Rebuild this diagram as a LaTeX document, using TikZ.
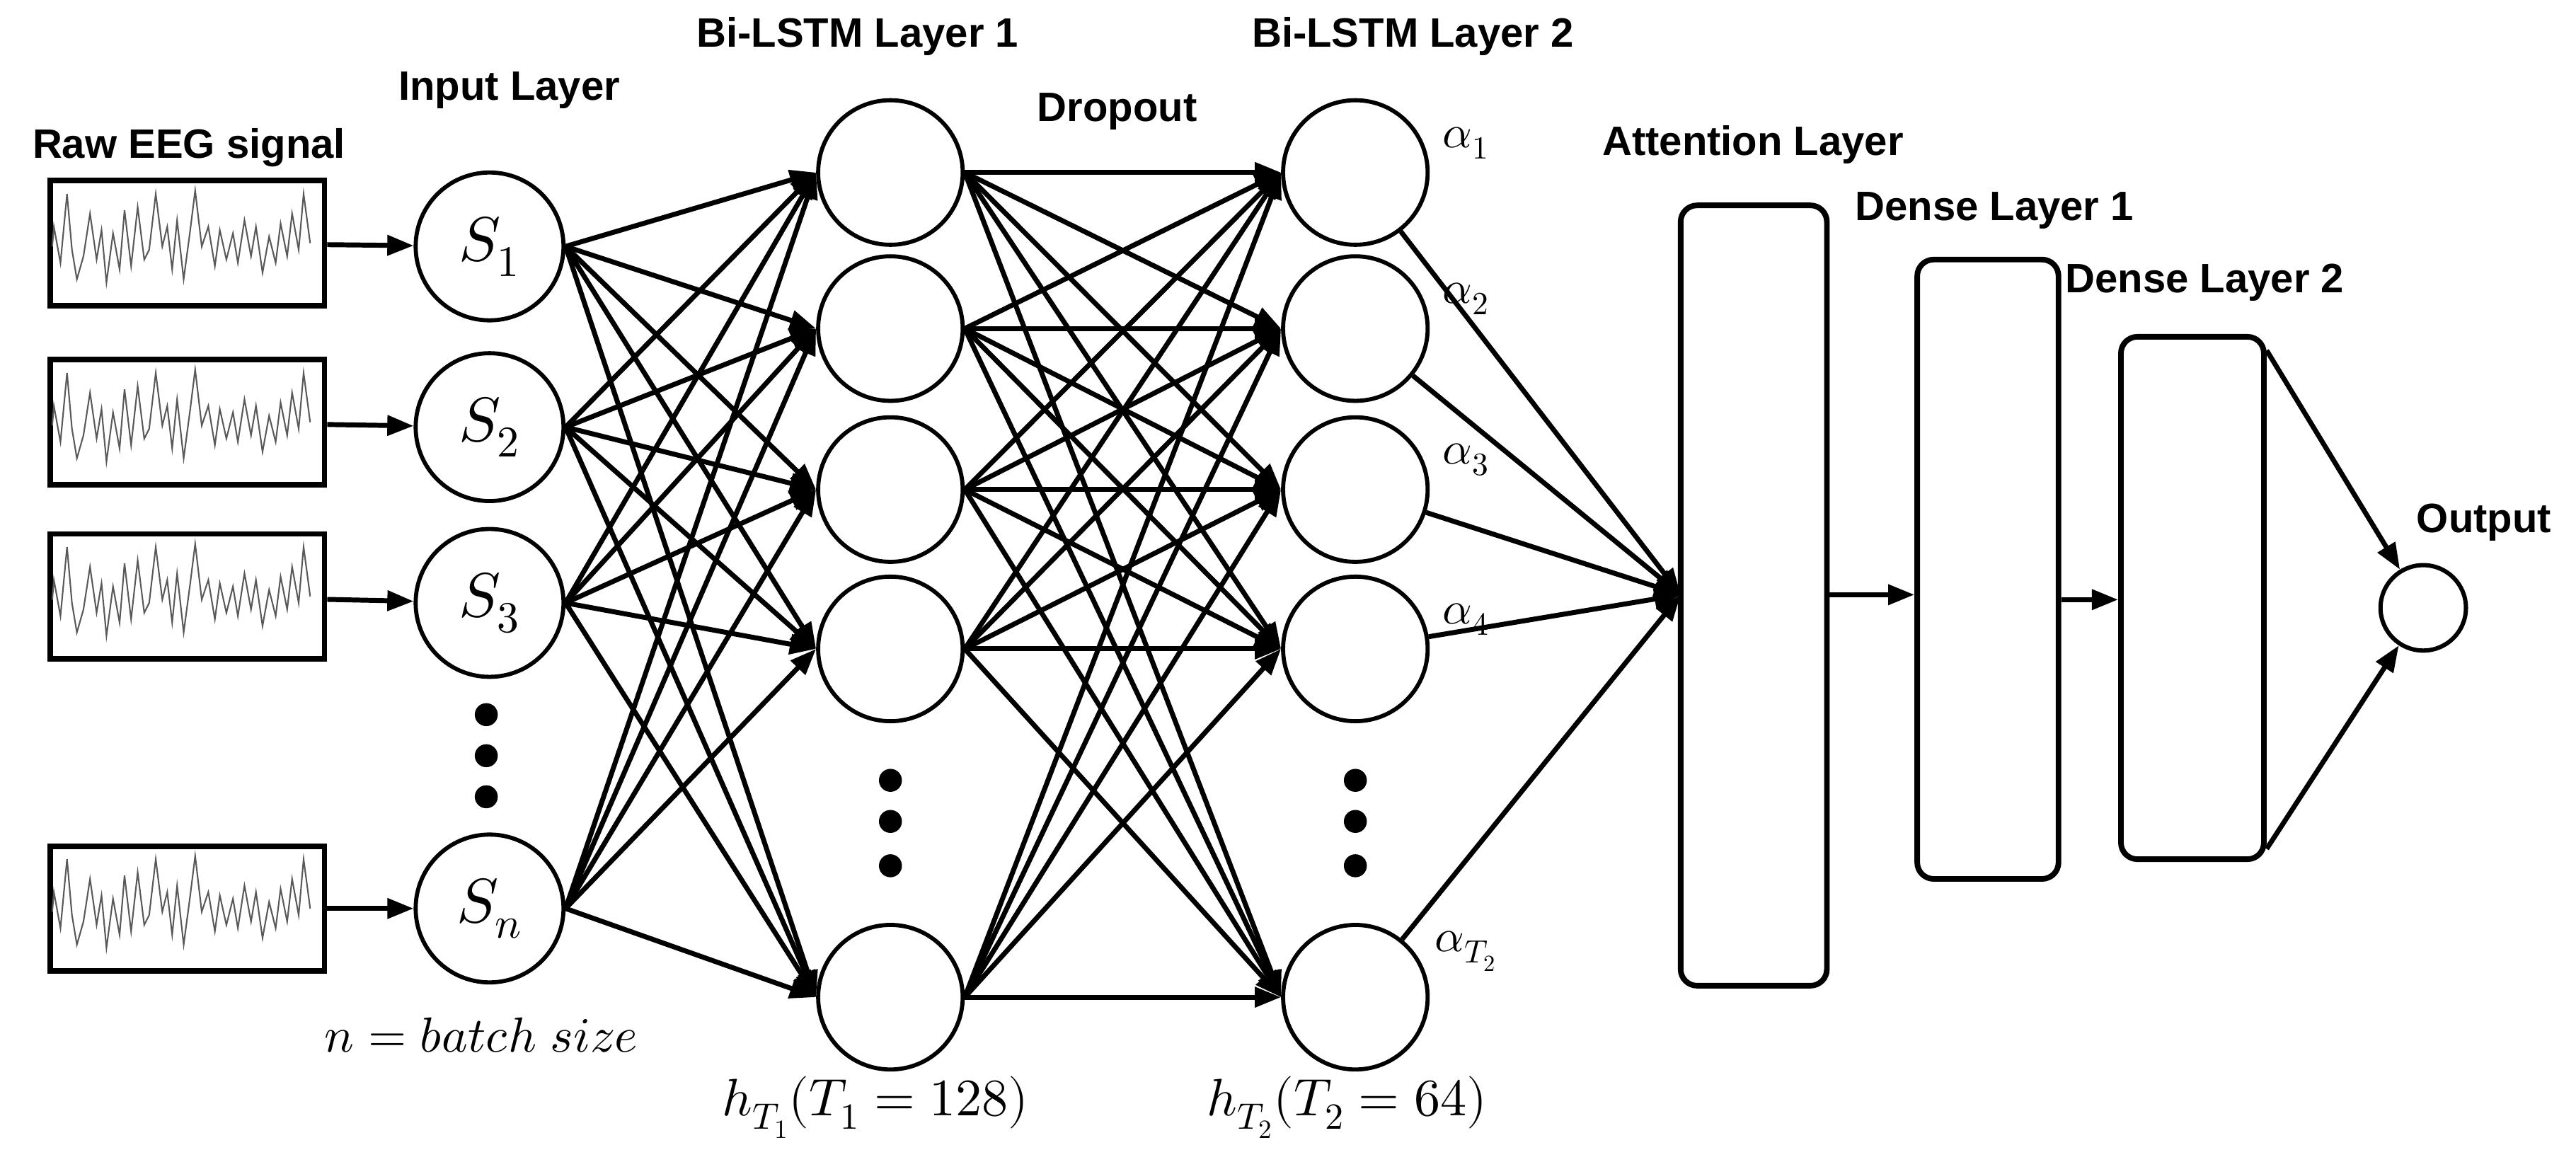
\documentclass[tikz,border=0pt]{standalone}
\usepackage{fontspec}
\setmainfont{Liberation Sans}
\usepackage{unicode-math}
\setmathfont{Latin Modern Math}
\usetikzlibrary{arrows.meta, calc}

\tikzset{
  neuron/.style = {circle, draw, line width = 2.5pt, minimum size = #1, inner sep = 0pt},
  layerbox/.style = {draw, line width = 3.4pt, rounded corners = 10pt},
  eegbox/.style = {draw, line width = 3.4pt, minimum width = 167pt, minimum height = 76pt},
  ttl/.style = {font = \fontsize{25}{27}\selectfont\bfseries},
  link/.style = {line width = 3pt, -{Triangle[length = 16pt, width = 12pt]}},
  vdot/.style = {circle, fill, minimum size = 14pt, inner sep = 0pt},
}
\newcommand{\eegwave}[1]{%
  \draw[gray!70!black, line width = 0.9pt] ($(#1.west)+(3,2)$)
    \foreach \dx/\dy in {4/-10,8/12,12/-30,15/4,18/22,22/8,26/-18,30/10,33/-8,36/24,40/-6,44/16,47/-20,51/14,55/-22,59/10,62/4,66/-30,70/2,73/-10,76/16,79/-14,83/22,87/-8,90/-32,94/2,98/-10,102/14,105/-8,109/10,113/-6,116/12,120/-14,124/8,127/-10,131/18,135/-4,139/12,142/-12,146/8,149/-18,153/4,156/-30,160/0} {
      -- ($(#1.west)+(\dx,\dy)$)};}

\begin{document}
\begin{tikzpicture}[x = 1pt, y = -1pt]
  \useasboundingbox (0,0) rectangle (1568,707);
  %%%%%%%%%%%%%
  \node[ttl] at (115,90) {Raw EEG signal};
  \node[ttl] at (310,55) {Input Layer};
  \node[ttl] at (522,22) {Bi-LSTM Layer 1};
  \node[ttl] at (680,68) {Dropout};
  \node[ttl] at (860,22) {Bi-LSTM Layer 2};
  \node[ttl] at (1067,88) {Attention Layer};
  \node[ttl] at (1214,128) {Dense Layer 1};
  \node[ttl] at (1342,172) {Dense Layer 2};
  \node[ttl] at (1512,318) {Output};
  %%%%%%%%%%%%%
  \foreach \n/\y in {1/148, 2/257, 3/363, n/553} {
    \node[eegbox] (e\n) at (114,\y) {};
    \eegwave{e\n}
  }
  \foreach \n/\y in {1/150, 2/260, 3/367, n/553}
    \node[neuron = 90pt] (s\n) at (298,\y) {\fontsize{38}{40}\selectfont$S_{\n}$};
  \foreach \y in {435,460,485} \node[vdot] at (296,\y) {};
  \foreach \i/\y in {1/105, 2/200, 3/298, 4/395, 5/607} {
    \node[neuron = 88pt] (a\i) at (542,\y) {};
    \node[neuron = 88pt] (b\i) at (825,\y) {};
  }
  \foreach \y in {475,500,527} {
    \node[vdot] at (542,\y) {};
    \node[vdot] at (825,\y) {};
  }
  \node (att) [layerbox, minimum width = 89pt, minimum height = 475pt] at (1067.5,362.5) {};
  \node (den1) [layerbox, minimum width = 86pt, minimum height = 377pt] at (1210,346.5) {};
  \node (den2) [layerbox, minimum width = 87pt, minimum height = 318pt] at (1334.5,364) {};
  \node (out) [neuron = 52pt, line width = 2.6pt] at (1475,370) {};
  \coordinate (attin) at (1023,362);
  %%%%%%%%%%%%%
  \foreach \n in {1,2,3,n} {
    \draw[link] (e\n) -- (s\n);
    \foreach \i in {1,...,5} \draw[link] (s\n.east) -- (a\i.west);
  }
  \foreach \i in {1,...,5}
    \foreach \j in {1,...,5} \draw[link] (a\i.east) -- (b\j.west);
  \foreach \j/\lab in {1/\alpha_{1}, 2/\alpha_{2}, 3/\alpha_{3}, 4/\alpha_{4}, 5/\alpha_{T_{2}}} {
    \draw[link] (b\j) -- (attin);
    \node at ($(b\j.east)+(22,\ifnum\j=5 -28\else -18\fi)$) {\fontsize{28}{30}\selectfont$\lab$};
  }
  \draw[link] (att.east |- attin) -- (den1.west |- attin);
  \draw[link] (den1.east |- 0,365) -- (den2.west |- 0,365);
  \draw[link] (den2.north east) ++(0,10) -- (out);
  \draw[link] (den2.south east) ++(0,-8) -- (out);
  %%%%%%%%%%%%%
  \node at (293,630) {\fontsize{30}{32}\selectfont$n = batch\ size$};
  \node at (533,674) {\fontsize{32}{34}\selectfont$h_{T_1}(T_1 = 128)$};
  \node at (820,674) {\fontsize{32}{34}\selectfont$h_{T_2}(T_2 = 64)$};
\end{tikzpicture}
\end{document}
